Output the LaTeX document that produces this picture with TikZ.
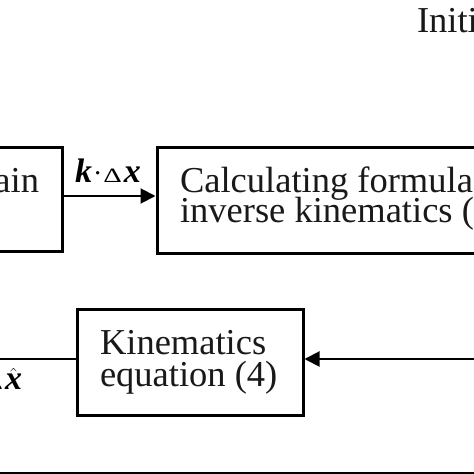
\documentclass[tikz,border=0pt]{standalone}
\usepackage{fontspec}
\usepackage{graphicx}
\setmainfont{Liberation Serif}
\usetikzlibrary{arrows.meta}
\newcommand{\bigtxt}{\fontsize{36.5}{40}\selectfont}
\newcommand{\lbltxt}{\fontsize{34}{38}\selectfont}
\newcommand{\deltxt}{\fontsize{24}{26}\selectfont}
\newcommand{\widedelta}{\scalebox{1.2}[0.85]{\deltxt Δ}}
\tikzset{
  x=1pt, y=1pt,
  blockbox/.style={draw=black, line width=3pt, rectangle, inner sep=0pt, fill=none},
  txt/.style={inner sep=0pt, outer sep=0pt, font=\bigtxt, text=black!90},
  lbl/.style={inner sep=0pt, outer sep=0pt, font=\lbltxt, text=black},
  conn/.style={draw=black, line width=2pt},
  arr/.style={conn, -{Triangle[length=15pt, width=15pt]}},
}
\begin{document}
\begin{tikzpicture}
\useasboundingbox (0,0) rectangle (474,474);
\clip (0,0) rectangle (474,474);
\fill[white] (0,0) rectangle (474,474);

% top text
\node[txt, anchor=base west] (initi) at (417,441) {Initi};

% gain box (partial)
\node[blockbox, minimum width=122pt, minimum height=104pt] (gainbox) at (1,274) {};
\node[txt, anchor=base east] (gaintxt) at (39,281) {ain};

% calculating box (partial)
\node[blockbox, minimum width=463pt, minimum height=106pt] (calcbox) at (388.5,273.5) {};
\node[txt, anchor=base west] (calc1) at (180,281) {Calculating formula};
\node[txt, anchor=base west] (calc2) at (180,251) {inverse kinematics (};

% arrow gain -> calc
\coordinate (ay) at (0,278);
\draw[arr] (gainbox.east |- ay) -- (calcbox.west |- ay);
\node[lbl, anchor=base west] (kdx) at (75,291)
  {\textbf{\textit{k}}\hspace{1pt}{\fontsize{28}{30}\selectfont ·}\hspace{1pt}\widedelta\hspace{2pt}\textbf{\textit{x}}};

% kinematics box
\node[blockbox, minimum width=226pt, minimum height=105.5pt] (kinbox) at (190,111.25) {};
\node[txt, anchor=base west] (kin1) at (100,119) {Kinematics};
\node[txt, anchor=base west] (kin2) at (100,87) {equation (4)};

% lines at kinematics box
\coordinate (ky) at (0,115);
\coordinate (kleft) at (-10,115);
\coordinate (kright) at (490,115);
\draw[conn] (kleft) -- (kinbox.west |- ky);
\draw[arr] (kright) -- (kinbox.east |- ky);
\node[lbl, anchor=base east] (dxhat) at (22,84)
  {\widedelta\hspace{2pt}$\hat{\mbox{\lbltxt\bfseries\itshape x}}$};

% bottom box edge
\node[blockbox, minimum width=520pt, minimum height=100pt, anchor=north] (bottombox) at (237,1.5) {};
\end{tikzpicture}
\end{document}
